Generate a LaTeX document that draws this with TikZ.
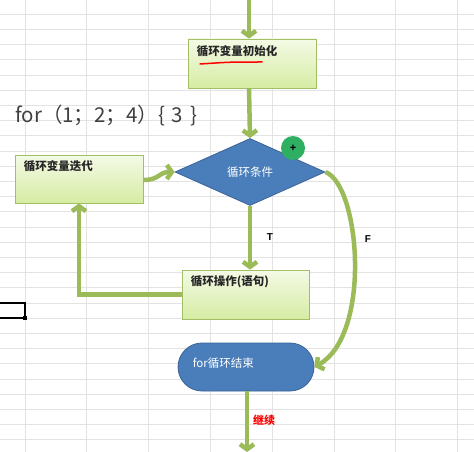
\documentclass[tikz,border=0pt]{standalone}
\usepackage{fontspec}
\setmainfont{Liberation Sans}
\newfontfamily\cjk{Noto Sans CJK SC}
\usetikzlibrary{arrows.meta,shapes.geometric,calc}
\definecolor{gline}{HTML}{9BBB59}
\definecolor{gfillA}{HTML}{F4FAE6}
\definecolor{gfillB}{HTML}{D6ECA3}
\definecolor{gborder}{HTML}{A3BF66}
\definecolor{bfill}{HTML}{4A7EBB}
\definecolor{bborder}{HTML}{3A6396}
\definecolor{gridc}{HTML}{E3E3E3}
\definecolor{txtc}{HTML}{262626}
\definecolor{forc}{HTML}{404040}
\definecolor{curc}{HTML}{2EAF62}
\begin{document}
\begin{tikzpicture}[x=1pt,y=-1pt,
  flowbox/.style={draw=gborder, line width=0.8pt, top color=gfillA, bottom color=gfillB, inner sep=0pt},
  boxtext/.style={anchor=west, inner sep=0pt, text=txtc, font=\cjk\fontsize{11.5}{13}\selectfont\bfseries},
  bluetext/.style={text=white, font=\cjk\fontsize{11.5}{13}\selectfont},
  conn/.style={draw=gline, line width=4.5pt, -{Straight Barb[length=5pt,width=14pt]}},
  lbl/.style={inner sep=0pt, font=\fontsize{10}{12}\selectfont\bfseries}
]
\useasboundingbox (0,0) rectangle (474,452);
\fill[white] (0,0) rectangle (474,452);
% spreadsheet grid
\foreach \i in {0,...,28} {\draw[gridc, line width=1pt] (0,{14.3+15.2*\i}) -- (474,{14.3+15.2*\i});}
\foreach \x in {25,86.8,148.6,210.4,272.2,334,395.8,457.6} {\draw[gridc, line width=1pt] (\x,0) -- (\x,452);}
% selection marker
\draw[black, line width=1.6pt] (0,303) -- (25,303) -- (25,318) -- (0,318);
\fill[black] (23,316) rectangle (27,320);

% nodes
\node[flowbox, minimum width=128pt, minimum height=49pt] (init) at (252,63.5) {};
\node[boxtext] (initT) at ($(init.north west)+(9,13)$) {循环变量初始化};
\node[flowbox, minimum width=128pt, minimum height=48pt] (iter) at (79,179) {};
\node[boxtext] (iterT) at ($(iter.north west)+(9,12)$) {循环变量迭代};
\node[flowbox, minimum width=127pt, minimum height=49pt] (act) at (245.5,294.5) {};
\node[boxtext] (actT) at ($(act.north west)+(9,12)$) {循环操作(语句)};
\node[diamond, draw=bborder, fill=bfill, line width=0.8pt, minimum width=150pt, minimum height=67pt, inner sep=0pt, bluetext] (dia) at (250,172) {循环条件};
\node[rounded corners=24pt, draw=bborder, fill=bfill, line width=0.8pt, minimum width=136pt, minimum height=48pt, inner sep=0pt] (end) at (246,367) {};
\node[bluetext, anchor=west, inner sep=0pt] (endT) at ($(end.west)+(15,-4)$) {for循环结束};

\node[anchor=west, inner sep=0pt, text=forc, font=\cjk\fontsize{20.5}{24}\selectfont] (code) at (15,115) {for（1；2；4）\{\,\,3\,\,\}};

% connectors
\coordinate (top) at (249,0);
\coordinate (bot) at (247,452);
\draw[conn] (top) -- (top |- init.north);
\draw[conn] (init.south -| top) -- (dia.north);
\draw[conn] (dia.south) -- (dia.south |- act.north);
\draw[conn] (act.west) -- (act.west -| iter.south) -- (iter.south);
\draw[conn] ($(iter.east)+(0,1)$) .. controls (160,180) and (158,172) .. (dia.west);
\draw[conn] (dia.east) .. controls (360,185) and (372,335) .. (end.east);
\draw[conn] (end.south -| bot) -- (bot);

% labels
\node[lbl] (T) at (270,237) {T};
\node[lbl] (F) at (368,239) {F};
\node[inner sep=0pt, text=red, font=\cjk\fontsize{11}{12}\selectfont\bfseries] (cont) at (264,420) {继续};
\draw[red, line width=1.5pt, line cap=round] (200,64) .. controls (230,62) .. (262,62);

% cursor
\node[circle, fill=curc, minimum size=24pt, inner sep=0pt, font=\fontsize{11}{12}\selectfont\bfseries] (cur) at (293,148) {+};
\end{tikzpicture}
\end{document}
